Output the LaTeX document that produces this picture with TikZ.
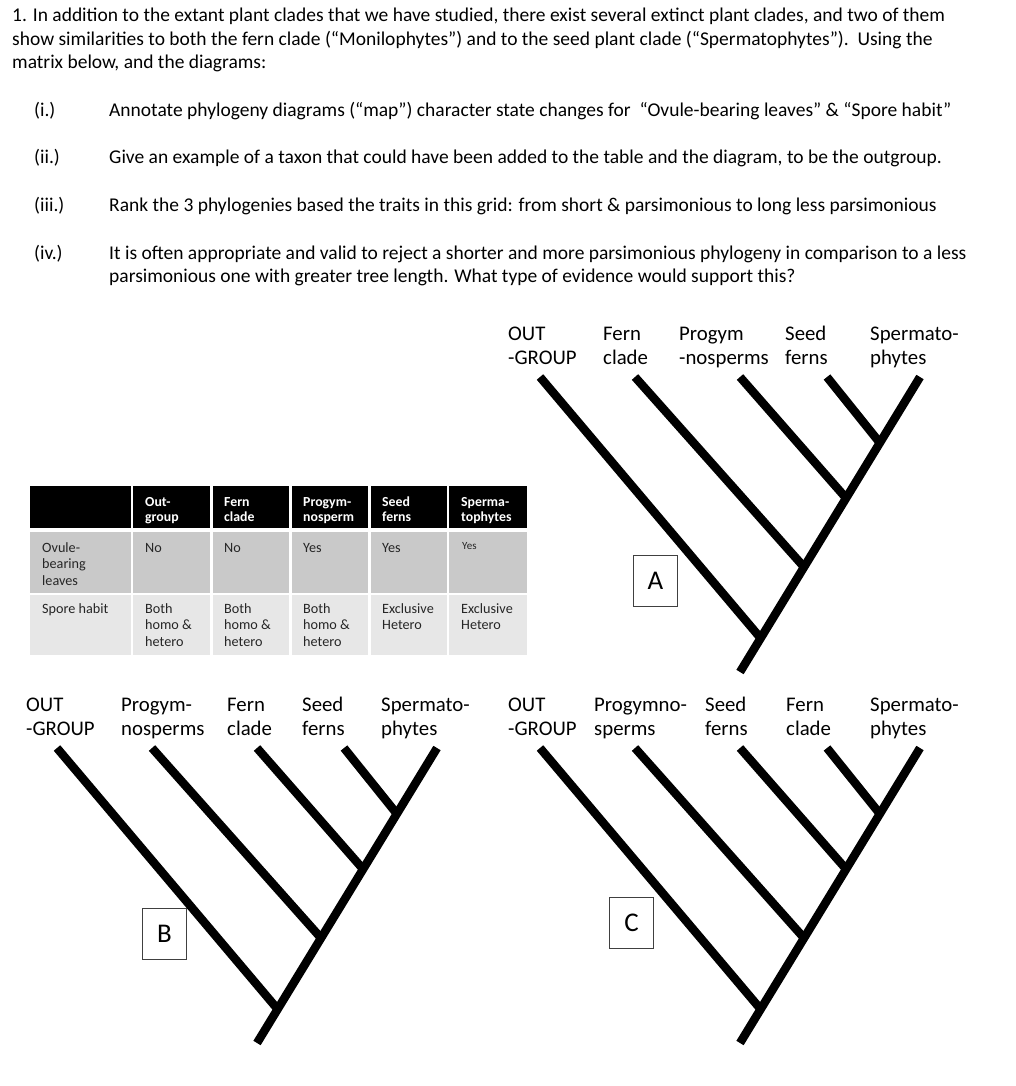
\documentclass[tikz,border=0pt]{standalone}
\usepackage{fontspec}
\setmainfont{Carlito}
\newcommand\mlines[1]{\begin{tabular}[t]{@{}l@{}}#1\end{tabular}}
\definecolor{rowdark}{HTML}{C9C9C9}
\definecolor{rowlight}{HTML}{E7E7E7}
\tikzset{
  qtext/.style={anchor=base west, inner sep=0pt, font=\fontsize{19.5bp}{23bp}\selectfont},
  taxon/.style={anchor=base west, inner sep=0pt, font=\fontsize{20.8bp}{24bp}\selectfont},
  branch/.style={line width=8.5bp, black},
  letterbox/.style={draw=black!75, line width=0.9bp, minimum width=44bp, minimum height=51bp, inner sep=0pt, font=\fontsize{27bp}{30bp}\selectfont},
  ttext/.style={anchor=base west, inner sep=0pt, font=\fontsize{14.2bp}{16.5bp}\selectfont, text=black!85},
  thead/.style={anchor=base west, inner sep=0pt, font=\fontsize{13.8bp}{15bp}\selectfont\bfseries, text=white},
}
\newcommand\drawtree[1]{%
  \coordinate (#1t1) at (540,377);
  \coordinate (#1t2) at (635,377);
  \coordinate (#1t3) at (740,377);
  \coordinate (#1t4) at (827,377);
  \coordinate (#1t5) at (920,377);
  \coordinate (#1r) at (740,672);
  \coordinate (#1n1) at (760.5,638);
  \coordinate (#1n2) at (804,567);
  \coordinate (#1n3) at (846,498);
  \coordinate (#1n4) at (880,443);
  \draw[branch] (#1r) -- (#1t5);
  \draw[branch] (#1t1) -- (#1n1);
  \draw[branch] (#1t2) -- (#1n2);
  \draw[branch] (#1t3) -- (#1n3);
  \draw[branch] (#1t4) -- (#1n4);
}
\begin{document}
\begin{tikzpicture}[x=1bp,y=-1bp]
\useasboundingbox[fill=white] (0,0) rectangle (1016,1086);

% question text
\node[qtext] (q1) at (12,21) {1. In addition to the extant plant clades that we have studied, there exist several extinct plant clades, and two of them};
\node[qtext] (q2) at (12,45) {show similarities to both the fern clade (“Monilophytes”) and to the seed plant clade (“Spermatophytes”).\ \ Using the};
\node[qtext] (q3) at (12,68) {matrix below, and the diagrams:};
\node[qtext] (i1) at (34,116) {(i.)};
\node[qtext] (i1t) at (109,116) {Annotate phylogeny diagrams (“map”) character state changes for\ \ “Ovule-bearing leaves” \& “Spore habit”};
\node[qtext] (i2) at (34,163) {(ii.)};
\node[qtext] (i2t) at (109,163) {Give an example of a taxon that could have been added to the table and the diagram, to be the outgroup.};
\node[qtext] (i3) at (34,211) {(iii.)};
\node[qtext] (i3t) at (109,211) {Rank the 3 phylogenies based the traits in this grid: from short \& parsimonious to long less parsimonious};
\node[qtext] (i4) at (34,259) {(iv.)};
\node[qtext] (i4t) at (109,259) {\mlines{It is often appropriate and valid to reject a shorter and more parsimonious phylogeny in comparison to a less\\parsimonious one with greater tree length. What type of evidence would support this?}};

% table
\fill[black] (30,486) rectangle (131,528);
\fill[black] (133,486) rectangle (210,528);
\fill[black] (213,486) rectangle (289,528);
\fill[black] (292,486) rectangle (368,528);
\fill[black] (371,486) rectangle (447,528);
\fill[black] (449,486) rectangle (527,528);
\fill[rowdark] (30,532) rectangle (131,593);
\fill[rowdark] (133,532) rectangle (210,593);
\fill[rowdark] (213,532) rectangle (289,593);
\fill[rowdark] (292,532) rectangle (368,593);
\fill[rowdark] (371,532) rectangle (447,593);
\fill[rowdark] (449,532) rectangle (527,593);
\fill[rowlight] (30,595) rectangle (131,655);
\fill[rowlight] (133,595) rectangle (210,655);
\fill[rowlight] (213,595) rectangle (289,655);
\fill[rowlight] (292,595) rectangle (368,655);
\fill[rowlight] (371,595) rectangle (447,655);
\fill[rowlight] (449,595) rectangle (527,655);

\node[thead] (h1) at (145,506) {\mlines{Out-\\group}};
\node[thead] (h2) at (224,506) {\mlines{Fern\\clade}};
\node[thead] (h3) at (303,506) {\mlines{Progym-\\nosperm}};
\node[thead] (h4) at (382,506) {\mlines{Seed\\ferns}};
\node[thead] (h5) at (461,506) {\mlines{Sperma-\\tophytes}};

\node[ttext] (r1) at (42,552) {\mlines{Ovule-\\bearing\\leaves}};
\node[ttext] (r1c1) at (145,552) {No};
\node[ttext] (r1c2) at (224,552) {No};
\node[ttext] (r1c3) at (303,552) {Yes};
\node[ttext] (r1c4) at (382,552) {Yes};
\node[ttext, font=\fontsize{11bp}{13bp}\selectfont] (r1c5) at (462,549) {Yes};

\node[ttext] (r2) at (42,613) {Spore habit};
\node[ttext] (r2c1) at (145,613) {\mlines{Both\\homo \&\\hetero}};
\node[ttext] (r2c2) at (224,613) {\mlines{Both\\homo \&\\hetero}};
\node[ttext] (r2c3) at (303,613) {\mlines{Both\\homo \&\\hetero}};
\node[ttext] (r2c4) at (382,613) {\mlines{Exclusive\\Hetero}};
\node[ttext] (r2c5) at (461,613) {\mlines{Exclusive\\Hetero}};

% tree A
\begin{scope}
  \drawtree{a}
\end{scope}
\node[taxon] (aL1) at (508,340) {\mlines{OUT\\-GROUP}};
\node[taxon] (aL2) at (603,340) {\mlines{Fern\\clade}};
\node[taxon] (aL3) at (679,340) {\mlines{Progym\\-nosperms}};
\node[taxon] (aL4) at (785,340) {\mlines{Seed\\ferns}};
\node[taxon] (aL5) at (870,340) {\mlines{Spermato-\\phytes}};
\node[letterbox] (boxA) at (655.5,580.5) {A};

% tree B
\begin{scope}[shift={(-483,371)}]
  \drawtree{b}
\end{scope}
\node[taxon] (bL1) at (26,711) {\mlines{OUT\\-GROUP}};
\node[taxon] (bL2) at (121,711) {\mlines{Progym-\\nosperms}};
\node[taxon] (bL3) at (227,711) {\mlines{Fern\\clade}};
\node[taxon] (bL4) at (302,711) {\mlines{Seed\\ferns}};
\node[taxon] (bL5) at (381,711) {\mlines{Spermato-\\phytes}};
\node[letterbox] (boxB) at (164.5,934) {B};

% tree C
\begin{scope}[shift={(0,371)}]
  \drawtree{c}
\end{scope}
\node[taxon] (cL1) at (508,711) {\mlines{OUT\\-GROUP}};
\node[taxon] (cL2) at (594,711) {\mlines{Progymno-\\sperms}};
\node[taxon] (cL3) at (705,711) {\mlines{Seed\\ferns}};
\node[taxon] (cL4) at (786,711) {\mlines{Fern\\clade}};
\node[taxon] (cL5) at (870,711) {\mlines{Spermato-\\phytes}};
\node[letterbox] (boxC) at (631.5,922.5) {C};
\end{tikzpicture}
\end{document}
